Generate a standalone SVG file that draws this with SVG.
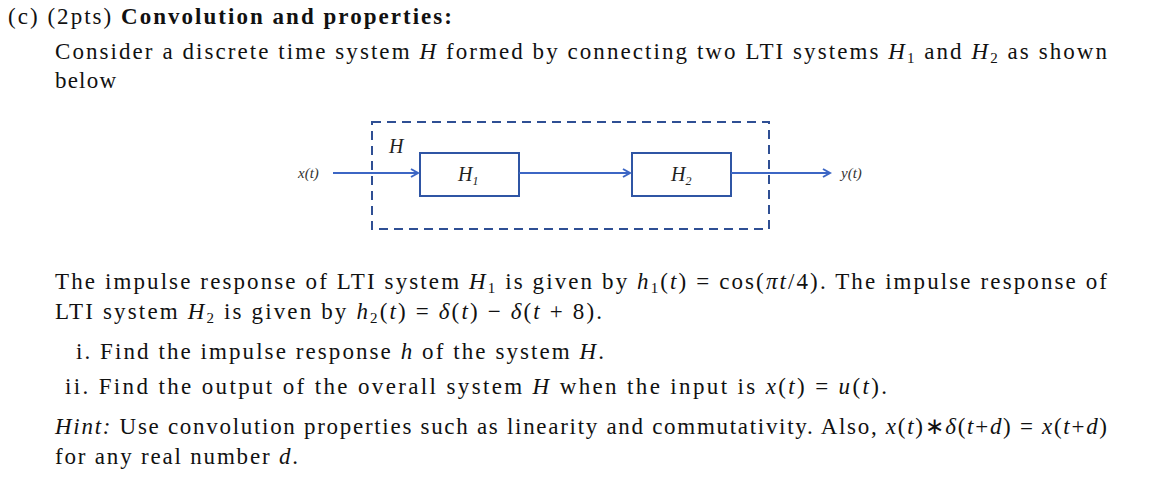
<svg xmlns="http://www.w3.org/2000/svg" width="1149" height="497" viewBox="0 0 1149 497">
<style>
.t{font-family:"Liberation Serif",serif;font-size:23px;fill:#111}
.b{font-weight:bold}
.i{font-style:italic}
.box{fill:#fff;stroke:#2f55a4;stroke-width:2}
.ln{stroke:#3c66c4;stroke-width:2;fill:none}
.s{font-family:"Liberation Serif",serif;font-size:15px;fill:#333;font-style:italic}
.n{font-family:"Liberation Serif",serif;font-size:20px;fill:#222;font-style:italic}
</style>
<defs><marker id="a" markerWidth="10" markerHeight="10" refX="8" refY="5" orient="auto" markerUnits="userSpaceOnUse"><path d="M1,1 L8,5 L1,9" fill="none" stroke="#3c66c4" stroke-width="2"/></marker></defs>
<text class="t" x="8" y="24" textLength="444" lengthAdjust="spacing">(c) (2pts) <tspan class="b">Convolution and properties:</tspan></text>
<text class="t" x="55" y="59" textLength="1052" lengthAdjust="spacing">Consider a discrete time system <tspan class="i">H</tspan> formed by connecting two LTI systems <tspan class="i">H</tspan><tspan font-size="15" dy="4">1</tspan><tspan dy="-4"> and </tspan><tspan class="i">H</tspan><tspan font-size="15" dy="4">2</tspan><tspan dy="-4"> as shown</tspan></text>
<text class="t" x="55" y="88" textLength="61" lengthAdjust="spacing">below</text>
<g id="H"><rect x="372" y="122" width="397" height="107" fill="none" stroke="#2f4f94" stroke-width="2" stroke-dasharray="9,6"/><text class="n" x="389" y="153">H</text></g>
<g id="H1"><rect class="box" x="420" y="153" width="99" height="43"/><text class="n" x="458" y="181">H<tspan font-size="12" dy="4">1</tspan></text></g>
<g id="H2"><rect class="box" x="632" y="153" width="99" height="43"/><text class="n" x="671" y="181">H<tspan font-size="12" dy="4">2</tspan></text></g>
<text class="s" x="298" y="178">x(t)</text>
<text class="s" x="841" y="178">y(t)</text>
<g id="connectors">
<line class="ln" x1="333" y1="173" x2="418" y2="173" marker-end="url(#a)"/>
<line class="ln" x1="519" y1="173" x2="630" y2="173" marker-end="url(#a)"/>
<line class="ln" x1="731" y1="173" x2="830" y2="173" marker-end="url(#a)"/>
</g>
<text class="t" x="55" y="289" textLength="1052" lengthAdjust="spacing">The impulse response of LTI system <tspan class="i">H</tspan><tspan font-size="15" dy="4">1</tspan><tspan dy="-4"> is given by </tspan><tspan class="i">h</tspan><tspan font-size="15" dy="4">1</tspan><tspan dy="-4">(</tspan><tspan class="i">t</tspan>) = cos(<tspan class="i">πt</tspan>/4). The impulse response of</text>
<text class="t" x="55" y="319" textLength="547" lengthAdjust="spacing">LTI system <tspan class="i">H</tspan><tspan font-size="15" dy="4">2</tspan><tspan dy="-4"> is given by </tspan><tspan class="i">h</tspan><tspan font-size="15" dy="4">2</tspan><tspan dy="-4">(</tspan><tspan class="i">t</tspan>) = <tspan class="i">δ</tspan>(<tspan class="i">t</tspan>) − <tspan class="i">δ</tspan>(<tspan class="i">t</tspan> + 8).</text>
<text class="t" x="76" y="359" textLength="528" lengthAdjust="spacing">i. Find the impulse response <tspan class="i">h</tspan> of the system <tspan class="i">H</tspan>.</text>
<text class="t" x="65" y="394" textLength="822" lengthAdjust="spacing">ii. Find the output of the overall system <tspan class="i">H</tspan> when the input is <tspan class="i">x</tspan>(<tspan class="i">t</tspan>) = <tspan class="i">u</tspan>(<tspan class="i">t</tspan>).</text>
<text class="t" x="55" y="434" textLength="1052" lengthAdjust="spacing"><tspan class="i">Hint:</tspan> Use convolution properties such as linearity and commutativity. Also, <tspan class="i">x</tspan>(<tspan class="i">t</tspan>)∗<tspan class="i">δ</tspan>(<tspan class="i">t</tspan>+<tspan class="i">d</tspan>) = <tspan class="i">x</tspan>(<tspan class="i">t</tspan>+<tspan class="i">d</tspan>)</text>
<text class="t" x="55" y="464" textLength="243" lengthAdjust="spacing">for any real number <tspan class="i">d</tspan>.</text>
</svg>
